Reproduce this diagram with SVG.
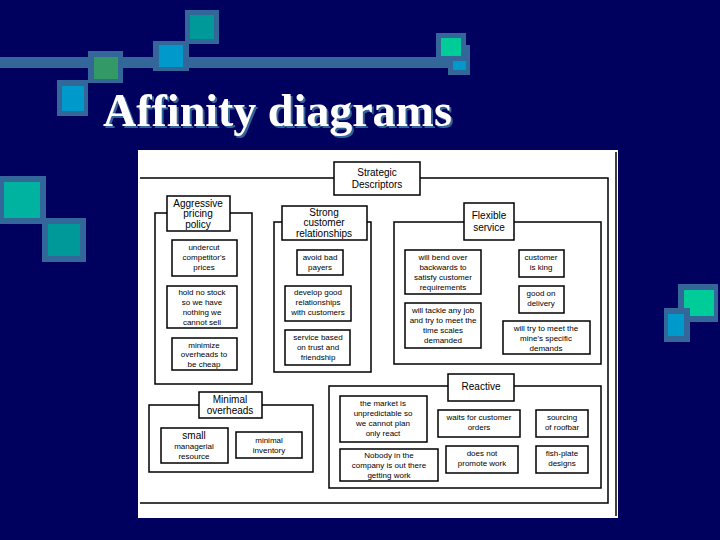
<svg xmlns="http://www.w3.org/2000/svg" width="720" height="540" viewBox="0 0 720 540">
<defs><filter id="sh" x="-5%" y="-20%" width="110%" height="140%"><feDropShadow dx="2" dy="2" stdDeviation="0.5" flood-color="#336699"/></filter></defs>
<style>
.b{fill:#fff;stroke:#000;stroke-width:1.5}
.g{fill:none;stroke:#000;stroke-width:1.5}
.c{font-family:"Liberation Sans",Arial,sans-serif;font-size:8px;text-anchor:middle;fill:#000}
.h{font-family:"Liberation Sans",Arial,sans-serif;font-size:10px;text-anchor:middle;fill:#000}
.o{fill:#336699}
</style>
<rect width="720" height="540" fill="#00005e"/>
<g id="decor">
<rect class="o" x="0" y="57" width="470" height="11"/>
<rect class="o" x="57" y="80" width="31" height="36"/><rect x="62" y="86" width="22" height="25" fill="#0099cc"/>
<rect class="o" x="88" y="51" width="35" height="32"/><rect x="94" y="57" width="24" height="22" fill="#339966"/>
<rect class="o" x="153" y="41" width="36" height="30"/><rect x="159" y="45" width="24" height="22" fill="#0099cc"/>
<rect class="o" x="185" y="10" width="34" height="34"/><rect x="190" y="15" width="24" height="24" fill="#009999"/>
<rect class="o" x="448" y="45" width="22" height="30"/><rect x="453" y="50" width="13" height="20" fill="#0099cc"/>
<rect class="o" x="436" y="33" width="30" height="28"/><rect x="441" y="38" width="20" height="18" fill="#00cc99"/>
<rect class="o" x="0" y="176" width="46" height="48"/><rect x="4" y="182" width="36" height="36" fill="#00b3a0"/>
<rect class="o" x="42" y="218" width="44" height="44"/><rect x="48" y="224" width="32" height="32" fill="#009999"/>
<rect class="o" x="678" y="284" width="40" height="38"/><rect x="684" y="290" width="30" height="26" fill="#00cc99"/>
<rect class="o" x="664" y="308" width="26" height="34"/><rect x="668" y="314" width="16" height="22" fill="#0099cc"/>
</g>
<text x="103" y="126" font-family="Liberation Serif,serif" font-weight="bold" font-size="46" fill="#fff" filter="url(#sh)">Affinity diagrams</text>
<rect x="138" y="150" width="480" height="368" fill="#fff"/>
<g id="connectors">
<polyline class="g" points="140,178 334,178"/>
<polyline class="g" points="420,178 608,178 608,503 140,503"/>
<line class="g" x1="616" y1="152" x2="616" y2="516" stroke="#ccc"/>
<rect class="g" x="155" y="213" width="97" height="171"/>
<rect class="g" x="274" y="222" width="97" height="150"/>
<rect class="g" x="394" y="222" width="207" height="142"/>
<rect class="g" x="329" y="386" width="272" height="102"/>
<rect class="g" x="149" y="405" width="164" height="67"/>
</g>
<g id="strategic"><rect class="b" x="334" y="162" width="86" height="33"/><text class="h" x="377" y="176">Strategic</text><text class="h" x="377" y="188">Descriptors</text></g>
<g id="aggressive"><rect class="b" x="167" y="196" width="63" height="35"/><text class="h" x="198" y="207">Aggressive</text><text class="h" x="198" y="217">pricing</text><text class="h" x="198" y="228">policy</text></g>
<g id="n1"><rect class="b" x="172" y="240" width="65" height="36"/><text class="c" x="204" y="250">undercut</text><text class="c" x="204" y="260">competitor's</text><text class="c" x="204" y="270">prices</text></g>
<g id="n2"><rect class="b" x="167" y="286" width="70" height="42"/><text class="c" x="202" y="295">hold no stock</text><text class="c" x="202" y="305">so we have</text><text class="c" x="202" y="315">nothing we</text><text class="c" x="202" y="325">cannot sell</text></g>
<g id="n3"><rect class="b" x="172" y="338" width="65" height="32"/><text class="c" x="204" y="348">minimize</text><text class="c" x="204" y="357">overheads to</text><text class="c" x="204" y="367">be cheap</text></g>
<g id="strong"><rect class="b" x="282" y="206" width="85" height="34"/><text class="h" x="324" y="216">Strong</text><text class="h" x="324" y="226">customer</text><text class="h" x="324" y="237">relationships</text></g>
<g id="n4"><rect class="b" x="297" y="250" width="46" height="25"/><text class="c" x="320" y="260">avoid bad</text><text class="c" x="320" y="270">payers</text></g>
<g id="n5"><rect class="b" x="285" y="286" width="66" height="35"/><text class="c" x="318" y="295">develop good</text><text class="c" x="318" y="305">relationships</text><text class="c" x="318" y="315">with customers</text></g>
<g id="n6"><rect class="b" x="285" y="330" width="65" height="35"/><text class="c" x="318" y="340">service based</text><text class="c" x="318" y="350">on trust and</text><text class="c" x="318" y="360">friendship</text></g>
<g id="flexible"><rect class="b" x="464" y="203" width="50" height="37"/><text class="h" x="489" y="219">Flexible</text><text class="h" x="489" y="231">service</text></g>
<g id="n7"><rect class="b" x="405" y="250" width="76" height="44"/><text class="c" x="443" y="260">will bend over</text><text class="c" x="443" y="270">backwards to</text><text class="c" x="443" y="280">satisfy customer</text><text class="c" x="443" y="290">requirements</text></g>
<g id="n8"><rect class="b" x="405" y="303" width="76" height="45"/><text class="c" x="443" y="313">will tackle any job</text><text class="c" x="443" y="323">and try to meet the</text><text class="c" x="443" y="333">time scales</text><text class="c" x="443" y="343">demanded</text></g>
<g id="n9"><rect class="b" x="519" y="250" width="45" height="27"/><text class="c" x="541" y="260">customer</text><text class="c" x="541" y="270">is king</text></g>
<g id="n10"><rect class="b" x="519" y="286" width="45" height="27"/><text class="c" x="541" y="296">good on</text><text class="c" x="541" y="306">delivery</text></g>
<g id="n11"><rect class="b" x="503" y="321" width="87" height="33"/><text class="c" x="546" y="331">will try to meet the</text><text class="c" x="546" y="341">mine's specific</text><text class="c" x="546" y="351">demands</text></g>
<g id="reactive"><rect class="b" x="448" y="374" width="66" height="27"/><text class="h" x="481" y="390">Reactive</text></g>
<g id="n12"><rect class="b" x="340" y="396" width="87" height="46"/><text class="c" x="383" y="406">the market is</text><text class="c" x="383" y="416">unpredictable so</text><text class="c" x="383" y="426">we cannot plan</text><text class="c" x="383" y="436">only react</text></g>
<g id="n13"><rect class="b" x="438" y="410" width="82" height="27"/><text class="c" x="479" y="420">waits for customer</text><text class="c" x="479" y="430">orders</text></g>
<g id="n14"><rect class="b" x="536" y="410" width="52" height="27"/><text class="c" x="562" y="420">sourcing</text><text class="c" x="562" y="430">of roofbar</text></g>
<g id="n15"><rect class="b" x="340" y="449" width="98" height="32"/><text class="c" x="389" y="458">Nobody in the</text><text class="c" x="389" y="468">company is out there</text><text class="c" x="389" y="478">getting work</text></g>
<g id="n16"><rect class="b" x="446" y="446" width="72" height="27"/><text class="c" x="482" y="456">does not</text><text class="c" x="482" y="466">promote work</text></g>
<g id="n17"><rect class="b" x="536" y="446" width="52" height="27"/><text class="c" x="562" y="456">fish-plate</text><text class="c" x="562" y="466">designs</text></g>
<g id="minimal"><rect class="b" x="199" y="392" width="63" height="26"/><text class="h" x="230" y="403">Minimal</text><text class="h" x="230" y="414">overheads</text></g>
<g id="n18"><rect class="b" x="161" y="428" width="67" height="35"/><text class="h" x="194" y="439">small</text><text class="c" x="194" y="449">managerial</text><text class="c" x="194" y="459">resource</text></g>
<g id="n19"><rect class="b" x="236" y="432" width="66" height="26"/><text class="c" x="269" y="443">minimal</text><text class="c" x="269" y="453">inventory</text></g>
</svg>
